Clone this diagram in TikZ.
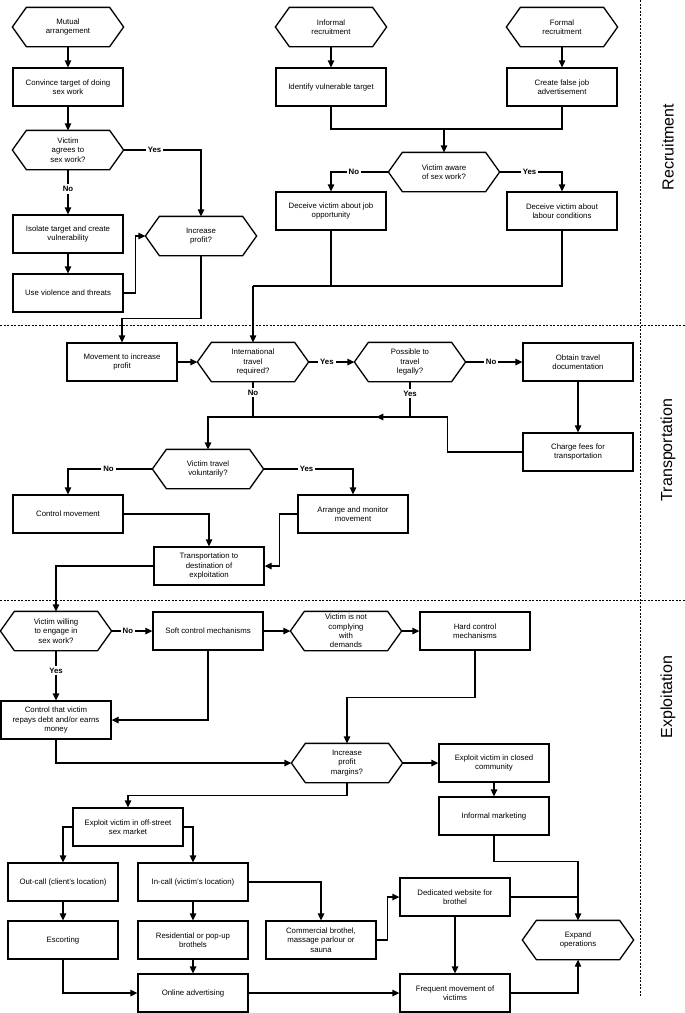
\documentclass[tikz,border=0pt]{standalone}
\usepackage{fontspec}
\setmainfont{Liberation Sans}
\usepackage{tikz}
\usetikzlibrary{arrows.meta}

\begin{document}
\begin{tikzpicture}[x=1pt, y=-1pt, line width=1.3pt,
  box/.style={draw, minimum width=110pt, minimum height=38pt, inner sep=1pt,
    align=center, font=\fontsize{7.8}{9.4}\selectfont},
  hexbox/.style={minimum width=110pt, minimum height=38pt, inner sep=0pt,
    align=center, font=\fontsize{7.8}{9.4}\selectfont,
    append after command={\pgfextra{\draw[line width=1.3pt]
      (\tikzlastnode.west) -- ([xshift=14pt]\tikzlastnode.north west)
      -- ([xshift=-14pt]\tikzlastnode.north east) -- (\tikzlastnode.east)
      -- ([xshift=-14pt]\tikzlastnode.south east)
      -- ([xshift=14pt]\tikzlastnode.south west) -- cycle;}}},
  arr/.style={-{Triangle[length=7pt, width=6.5pt]}},
  lab/.style={fill=white, inner sep=2pt, font=\fontsize{7.8}{9.4}\selectfont\bfseries},
  phase/.style={rotate=90, font=\fontsize{16}{19}\selectfont},
  phaseline/.style={line width=0.6pt, dash pattern=on 2pt off 1.5pt}]
  \useasboundingbox (0,0) rectangle (685,1013);

  % phase separators
  \draw[phaseline] (640,0) -- (640,997);
  \draw[phaseline] (0,325) -- (685,325);
  \draw[phaseline] (0,600) -- (685,600);
  \node[phase] (rec) at (668,147) {Recruitment};
  \node[phase] (trans) at (668,450) {Transportation};
  \node[phase] (expl) at (668,697) {Exploitation};

  % recruitment
  \node[hexbox] (mutual) at (68,27) {Mutual\\arrangement};
  \node[box] (convince) at (68,87) {Convince target of doing\\sex work};
  \node[hexbox] (agrees) at (68,150) {Victim\\agrees to\\sex work?};
  \node[box] (isolate) at (68,234) {Isolate target and create\\vulnerability};
  \node[box] (violence) at (68,293) {Use violence and threats};
  \node[hexbox] (incprofit) at (201,236) {Increase\\profit?};
  \node[hexbox] (informal) at (331,27) {Informal\\recruitment};
  \node[hexbox] (formal) at (562,27) {Formal\\recruitment};
  \node[box] (identify) at (331,87) {Identify vulnerable target};
  \node[box] (falsead) at (562,87) {Create false job\\advertisement};
  \node[hexbox] (aware) at (444,172) {Victim aware\\of sex work?};
  \node[box] (decjob) at (331,211) {Deceive victim about job\\opportunity};
  \node[box] (declab) at (562,211) {Deceive victim about\\labour conditions};
  \coordinate (join1) at (444,129);
  \coordinate (join2) at (253,286);

  \draw[arr] (mutual.south) -- (convince.north);
  \draw[arr] (convince.south) -- (agrees.north);
  \draw[arr] (agrees.east) -| node[lab, pos=0.2] {Yes} (incprofit.north);
  \draw[arr] (agrees.south) -- node[lab, pos=0.43] {No} (isolate.north);
  \draw[arr] (isolate.south) -- (violence.north);
  \draw[arr] (violence.east) -- ++(12,0) |- (incprofit.west);
  \draw[arr] (informal.south) -- (identify.north);
  \draw[arr] (formal.south) -- (falsead.north);
  \draw (identify.south) |- (join1);
  \draw (falsead.south) |- (join1);
  \draw[arr] (join1) -- (aware.north);
  \draw[arr] (aware.west) -| node[lab, pos=0.3] {No} (decjob.north);
  \draw[arr] (aware.east) -| node[lab, pos=0.24] {Yes} (declab.north);
  \draw (declab.south) |- (join2);
  \draw (decjob.south) -- (decjob.south |- join2);

  % transportation
  \node[box] (movement) at (122,362) {Movement to increase\\profit};
  \node[hexbox] (intl) at (253,362) {International\\travel\\required?};
  \node[hexbox] (legal) at (410,362) {Possible to\\travel\\legally?};
  \node[box] (obtain) at (578,362) {Obtain travel\\documentation};
  \node[box] (fees) at (578,452) {Charge fees for\\transportation};
  \node[hexbox] (voluntary) at (208,469) {Victim travel\\voluntarily?};
  \node[box] (ctrlmove) at (68,514) {Control movement};
  \node[box] (arrange) at (353,514) {Arrange and monitor\\movement};
  \node[box] (transport) at (209,566) {Transportation to\\destination of\\exploitation};
  \coordinate (join3) at (253,417);

  \draw[arr] (incprofit.south) -- ++(0,63) -| (movement.north);
  \draw[arr] (join2) -- (intl.north);
  \draw[arr] (movement.east) -- (intl.west);
  \draw[arr] (intl.east) -- node[lab, pos=0.4] {Yes} (legal.west);
  \draw[arr] (legal.east) -- node[lab, pos=0.45] {No} (obtain.west);
  \draw[arr] (obtain.south) -- (fees.north);
  \draw (intl.south) -- node[lab, pos=0.31] {No} (join3);
  \draw (legal.south) -- node[lab, pos=0.34] {Yes} (legal.south |- join3);
  \draw[arr] (fees.west) -- ++(-75,0) -- ++(0,-35) -- ++(-71,0);
  \draw[arr] (legal.south |- join3) -| (voluntary.north);
  \draw[arr] (voluntary.west) -| node[lab, pos=0.26] {No} (ctrlmove.north);
  \draw[arr] (voluntary.east) -| node[lab, pos=0.24] {Yes} (arrange.north);
  \draw[arr] (ctrlmove.east) -| (transport.north);
  \draw[arr] (arrange.west) -- ++(-18,0) |- (transport.east);

  % exploitation
  \node[hexbox] (willing) at (56,631) {Victim willing\\to engage in\\sex work?};
  \node[box] (soft) at (208,631) {Soft control mechanisms};
  \node[hexbox] (notcomply) at (346,631) {Victim is not\\complying\\with\\demands};
  \node[box] (hard) at (475,631) {Hard control\\mechanisms};
  \node[box] (repays) at (56,720) {Control that victim\\repays debt and/or earns\\money};
  \node[hexbox] (margins) at (347,763) {Increase\\profit\\margins?};
  \node[box] (closed) at (494,763) {Exploit victim in closed\\community};
  \node[box] (infmark) at (494,816) {Informal marketing};
  \node[box] (offstreet) at (128,827) {Exploit victim in off-street\\sex market};
  \node[box] (outcall) at (63,882) {Out-call (client's location)};
  \node[box] (incall) at (193,882) {In-call (victim's location)};
  \node[box] (escort) at (63,940) {Escorting};
  \node[box] (resid) at (193,940) {Residential or pop-up\\brothels};
  \node[box] (commerc) at (321,940) {Commercial brothel,\\massage parlour or\\sauna};
  \node[box] (website) at (455,897) {Dedicated website for\\brothel};
  \node[box] (online) at (193,993) {Online advertising};
  \node[box] (frequent) at (455,993) {Frequent movement of\\victims};
  \node[hexbox] (expand) at (578,940) {Expand\\operations};

  \draw[arr] (transport.west) -| (willing.north);
  \draw[arr] (willing.east) -- node[lab, pos=0.4] {No} (soft.west);
  \draw[arr] (soft.east) -- (notcomply.west);
  \draw[arr] (notcomply.east) -- (hard.west);
  \draw[arr] (willing.south) -- node[lab, pos=0.4] {Yes} (repays.north);
  \draw[arr] (soft.south) |- (repays.east);
  \draw[arr] (repays.south) |- (margins.west);
  \draw[arr] (hard.south) -- ++(0,47) -| (margins.north);
  \draw[arr] (margins.east) -- (closed.west);
  \draw[arr] (closed.south) -- (infmark.north);
  \draw[arr] (margins.south) -- ++(0,13) -| (offstreet.north);
  \draw[arr] (offstreet.west) -| (outcall.north);
  \draw[arr] (offstreet.east) -| (incall.north);
  \draw[arr] (outcall.south) -- (escort.north);
  \draw[arr] (incall.south) -- (resid.north);
  \draw[arr] (incall.east) -| (commerc.north);
  \draw[arr] (resid.south) -- (online.north);
  \draw[arr] (escort.south) |- (online.west);
  \draw[arr] (online.east) -- (frequent.west);
  \draw[arr] (commerc.east) -- ++(11,0) |- (website.west);
  \draw[arr] (website.south) -- (frequent.north);
  \draw[arr] (infmark.south) -- ++(0,26) -| (expand.north);
  \draw (website.east) -- (website.east -| expand.north);
  \draw[arr] (frequent.east) -| (expand.south);
\end{tikzpicture}
\end{document}
